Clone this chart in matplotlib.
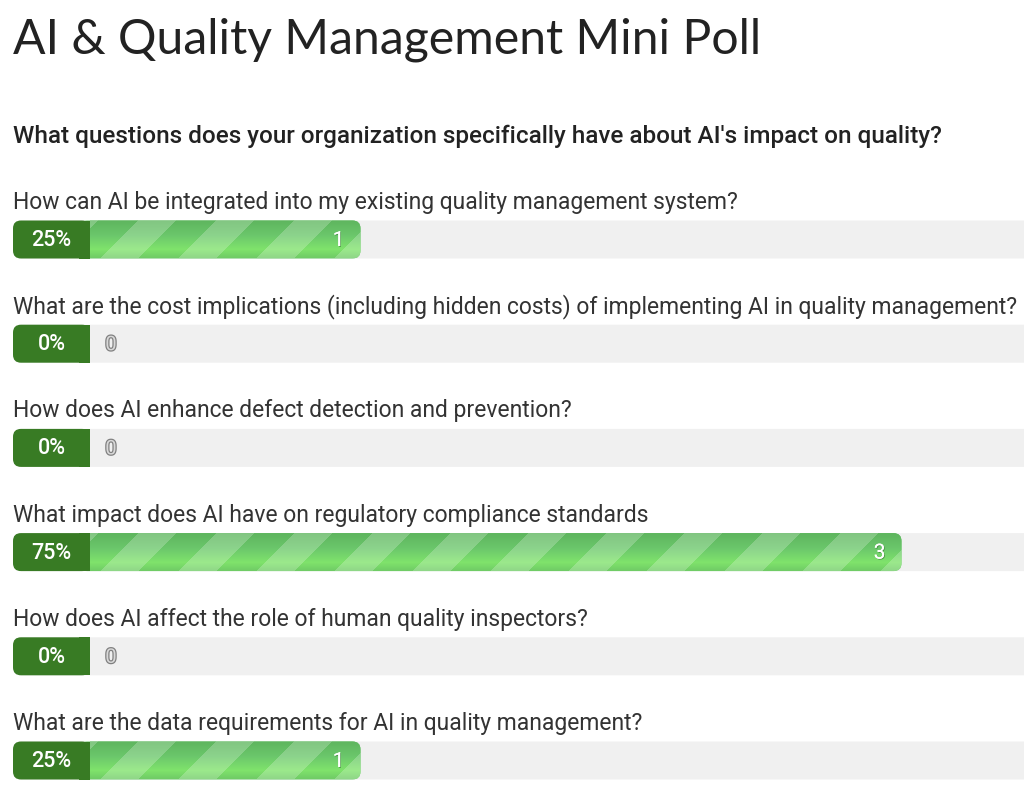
import numpy as np
import matplotlib
matplotlib.use("Agg")
import matplotlib.pyplot as plt
from matplotlib.patches import FancyBboxPatch, Rectangle
import matplotlib.patheffects as pe

title = "AI & Quality Management Mini Poll"
question = "What questions does your organization specifically have about AI's impact on quality?"
options = [
    "How can AI be integrated into my existing quality management system?",
    "What are the cost implications (including hidden costs) of implementing AI in quality management?",
    "How does AI enhance defect detection and prevention?",
    "What impact does AI have on regulatory compliance standards",
    "How does AI affect the role of human quality inspectors?",
    "What are the data requirements for AI in quality management?",
]
votes = [1, 0, 0, 3, 0, 1]
percents = [25, 0, 0, 75, 0, 25]

# layout (pixels, figure is 1024x792 at dpi 100)
px_per_pct = 10.82
bar_start_px = 90
box_left_px = 13
row0 = 239.5
row_gap = 104.2
bar_h = 38

fig = plt.figure(figsize=(10.24, 7.92), dpi=100)
ax = fig.add_axes([0, 0, 1, 1])
xmin = (0 - bar_start_px) / px_per_pct
xmax = (1024 - bar_start_px) / px_per_pct
ax.set_xlim(xmin, xmax)
ax.set_ylim(792, 0)
ax.axis("off")

box_left = (box_left_px - bar_start_px) / px_per_pct
r = 8 / px_per_pct  # corner radius in x units

# stripe texture for the green bars
ncol = 1024 - bar_start_px
rows = np.arange(bar_h)[:, None]
cols = np.arange(ncol)[None, :]
t = np.linspace(0, 1, bar_h)[:, None]
top = np.array([0.37, 0.71, 0.37])
mid = np.array([0.42, 0.78, 0.42])
low = np.array([0.50, 0.89, 0.42])
bot = np.array([0.44, 0.80, 0.40])
base = np.where(t < 0.4, top + (mid - top) * (t / 0.4),
                np.where(t < 0.78, mid + (low - mid) * ((t - 0.4) / 0.38),
                         low + (bot - low) * ((t - 0.78) / 0.22)))
stripe = ((cols + rows + 30) % 78) < 38
tex = base[:, None, :] * np.ones((1, ncol, 1))
tex[stripe] = tex[stripe] * 0.78 + 0.22

ys = [row0 + i * row_gap for i in range(len(options))]

bars = ax.barh(ys, percents, left=0, height=bar_h, color="none")

for i, (label, v, p) in enumerate(zip(options, votes, percents)):
    y = ys[i]
    y0 = y - bar_h / 2
    ax.text(box_left, y - 30.5, label, fontsize=16.45, family="Roboto",
            color="#333333", ha="left", va="baseline")

    # grey track
    ax.add_patch(FancyBboxPatch((box_left, y0), xmax + 5 - box_left, bar_h,
                                boxstyle=f"round,pad=0,rounding_size={r}",
                                mutation_aspect=px_per_pct, fc="#f0f0f0", ec="none", zorder=1))

    b = bars[i]
    w = b.get_width()
    if w > 0:
        patch = FancyBboxPatch((b.get_x() - 1, y0), w + 1, bar_h,
                               boxstyle=f"round,pad=0,rounding_size={r}",
                               mutation_aspect=px_per_pct, fc="#6cc86c", ec="none", zorder=2)
        ax.add_patch(patch)
        im = ax.imshow(tex, extent=(0, xmax, y0 + bar_h, y0), aspect="auto",
                       zorder=3, interpolation="bilinear")
        im.set_clip_path(patch)
        ax.text(b.get_x() + w - 16 / px_per_pct, y + 1, str(v), fontsize=15, family="Roboto",
                color="white", ha="right", va="center", zorder=5,
                path_effects=[pe.withSimplePatchShadow(offset=(0.6, -0.6), shadow_rgbFace="#2f6a2a", alpha=0.6),
                              pe.Normal()])
    else:
        ax.text(21 / px_per_pct, y + 1, str(v), fontsize=14.5, family="Roboto", color="#d8d8d8",
                ha="center", va="center", zorder=5,
                path_effects=[pe.withStroke(linewidth=1.8, foreground="#808080")])

    # dark percent box
    ax.add_patch(FancyBboxPatch((box_left, y0), -box_left, bar_h,
                                boxstyle=f"round,pad=0,rounding_size={r}",
                                mutation_aspect=px_per_pct, fc="#387b24", ec="none", zorder=4))
    ax.add_patch(Rectangle((-1, y0), 1, bar_h, fc="#387b24", ec="none", zorder=4))
    ax.text(box_left / 2, y + 1, f"{p}%", fontsize=15.5, family="Roboto", weight="medium",
            color="white", ha="center", va="center", zorder=5)

ax.text(box_left, 53, title, fontsize=34.7, family="Lato", color="#222222",
        ha="left", va="baseline")
ax.text(box_left, 143, question, fontsize=17.5, family="Roboto", weight="medium",
        color="#222222", ha="left", va="baseline")

fig.savefig("out.png", dpi=100)
